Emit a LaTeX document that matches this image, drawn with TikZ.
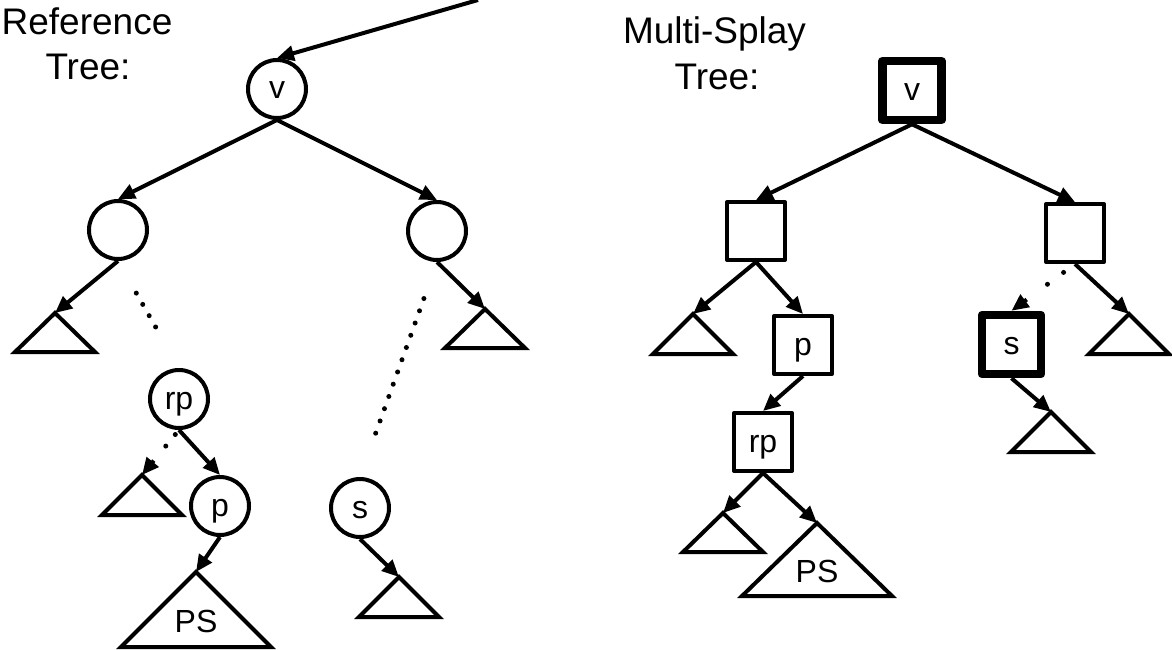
\documentclass[tikz,border=0pt]{standalone}
\usepackage{fontspec}
\setmainfont{Liberation Sans}
\usetikzlibrary{arrows.meta,calc}
\newcommand\mytri[5]{%
  \coordinate (#1) at (#2,#3);
  \draw[tri] (#1) -- ++(#4,#5) -- ++({-2*#4},0) -- cycle;}
\begin{document}
\begin{tikzpicture}[x=1pt,y=-1pt,
  every node/.style={inner sep=0pt},
  title/.style={font=\fontsize{37}{44}\selectfont, anchor=base},
  lbl/.style={font=\fontsize{32}{38}\selectfont},
  inlbl/.style={lbl,text height=20pt,text depth=0pt},
  cnode/.style={circle,draw,line width=4pt,minimum size=58pt,inlbl},
  snode/.style={rectangle,draw,line width=4pt,minimum size=58pt,line join=round,inlbl},
  bnode/.style={snode,line width=8.5pt,minimum size=59pt},
  edge/.style={line width=4pt,-{Triangle[length=17pt,width=15pt]}},
  dots/.style={line width=5pt,line cap=round,dash pattern=on 0pt off 13pt},
  tri/.style={line width=4pt,line join=miter}
]
\useasboundingbox (0,0) rectangle (1172,650);

% titles
\node[title] (t1) at (87,35) {Reference};
\node[title] (t2) at (88,80) {Tree:};
\node[title] (t3) at (714.5,44) {Multi-Splay};
\node[title] (t4) at (717,90) {Tree:};

% ---------- reference tree ----------
\node[cnode] (v) at (277,89) {v};
\node[cnode] (L) at (118,230) {};
\node[cnode] (R) at (437,231) {};
\node[cnode] (rp) at (179,399) {rp};
\node[cnode] (p) at (220,506) {p};
\node[cnode] (s) at (360,508) {s};
\coordinate (in) at (478,0);
\mytri{tL}{55}{313}{40}{39}
\mytri{tR}{485}{309}{40}{39}
\mytri{trp}{142}{475}{40}{40}
\mytri{tPS}{196}{572}{75}{75}
\node[lbl] (ps1) at (196,621) {PS};
\mytri{ts}{399}{577}{40}{40}

\draw[edge] (in) -- (v.north);
\draw[edge] (v.south) -- (L.north);
\draw[edge] (v.south) -- (R.north);
\draw[edge] (L.south) -- (tL);
\draw[edge] (R.south) -- (tR);
\draw[dots] ($(L.south)!0.3!(rp.north)$) -- ($(L.south)!0.72!(rp.north)$);
\draw[dots] ($(R.south)!0.17!(s.north)$) -- ($(R.south)!0.82!(s.north)$);
\draw[edge] (rp.south) -- (p.north);
\draw[dots,dash pattern=on 0pt off 15pt] ($(rp.south)!0.1!(trp)$) -- ($(rp.south)!0.4!(trp)$);
\draw[edge] ($(rp.south)!0.68!(trp)$) -- (trp);
\draw[edge] (p.south) -- (tPS);
\draw[edge] (s.south) -- (ts);

% ---------- multi-splay tree ----------
\node[bnode] (V) at (912,90.5) {v};
\node[snode] (SL) at (756,231) {};
\node[snode] (SR) at (1075,233) {};
\node[snode] (P) at (803,345) {p};
\node[snode] (RP) at (763,442) {rp};
\node[bnode] (S) at (1011.5,344.5) {s};
\mytri{uL}{693}{314}{40}{40}
\mytri{uR}{1129}{314}{40}{40}
\mytri{uS}{1051}{412}{40}{40}
\mytri{uRP}{723}{513}{40}{39}
\mytri{uPS}{817}{523}{75}{73}
\node[lbl] (ps2) at (817,571) {PS};

\draw[edge] (V.south) -- (SL.north);
\draw[edge] (V.south) -- (SR.north);
\draw[edge] (SL.south) -- (uL);
\draw[edge] (SL.south) -- (P.north);
\draw[edge] (SR.south) -- (uR);
\draw[dots,dash pattern=on 0pt off 20pt] ($(SR.south)!0.18!(S.north)$) -- ($(SR.south)!0.46!(S.north)$);
\draw[edge] ($(SR.south)!0.76!(S.north)$) -- (S.north);
\draw[edge] (P.south) -- (RP.north);
\draw[edge] (RP.south) -- (uRP);
\draw[edge] (RP.south) -- (uPS);
\draw[edge] (S.south) -- (uS);
\end{tikzpicture}
\end{document}
